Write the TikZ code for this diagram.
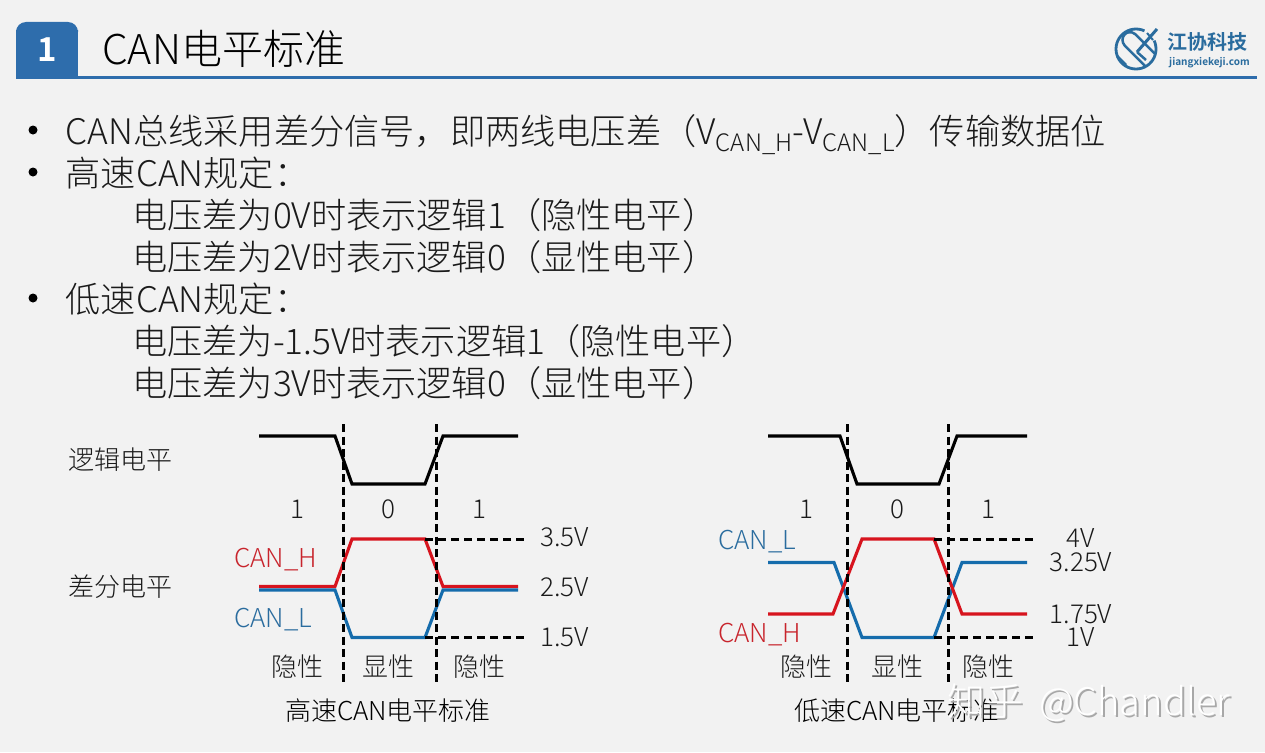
\documentclass[tikz,border=0pt]{standalone}
\usepackage{fontspec}
\setmainfont{Noto Sans CJK SC}[UprightFont=* Light,BoldFont=* Bold]
\newcommand{\fs}[1]{\fontsize{#1}{#1}\selectfont}
\definecolor{bgc}{HTML}{F2F2F2}
\definecolor{hdr}{HTML}{2E6DAC}
\definecolor{rl}{HTML}{D7141E}
\definecolor{bl}{HTML}{156CAC}
\definecolor{rt}{HTML}{C8242C}
\definecolor{bt}{HTML}{2A6C9E}
\definecolor{tx}{HTML}{1A1A1A}
\definecolor{wm}{HTML}{A8A8A8}
\tikzset{
  x=1pt,y=-1pt,
  body/.style={anchor=base west,inner sep=0pt,font=\fs{35.2},text=tx},
  dot/.style={circle,fill=black,inner sep=0pt,minimum size=9pt},
  lab/.style={inner sep=0pt,font=\fs{26},text=tx},
  sig/.style={line width=3.1pt,line join=miter},
  dash v/.style={line width=3pt,dash pattern=on 8pt off 4.5pt},
  dash h/.style={line width=3pt,dash pattern=on 8pt off 5pt},
}
\begin{document}
\begin{tikzpicture}
\useasboundingbox (0,0) rectangle (1265,752);
\fill[bgc] (0,0) rectangle (1265,752);
% header
\fill[hdr,rounded corners=10pt] (16,40) -- (16,22) -- (78,22) -- (78,40) -- cycle;
\fill[hdr] (16,32) rectangle (78,78.5);
\fill[hdr] (16,76) rectangle (1257,78.5);
\node[inner sep=0pt,anchor=base,text=white,font=\fs{33}\bfseries] (num) at (47,61) {1};
\node[anchor=base west,inner sep=0pt,font=\fs{41},text=black] (title) at (102,64) {CAN电平标准};
% logo
\draw[bt,line width=2.8pt] plot[smooth,domain=-25:295,samples=40] ({1136+20*cos(\x)},{49+20*sin(\x)});
\draw[bt,line width=2.5pt] (1155,54) -- (1135,34) .. controls (1127,28) and (1118,38) .. (1125,46) -- (1145,66);
\draw[bt,line width=3pt] (1157,29) -- (1137,52);
\draw[bt,line width=2pt] (1147,33) -- (1153,40);
\draw[bt,line width=2.5pt] (1137,52) -- (1146,60);
\draw[bt,line width=2.5pt] (1117,56) -- (1126,65);
\node[inner sep=0pt,anchor=base west,text=bt,font=\fs{20}\bfseries] (lg1) at (1167,50) {江协科技};
\node[inner sep=0pt,anchor=base west,text=bt,font=\fs{10}\bfseries] (lg2) at (1169,65) {jiangxiekeji.com};
% body
\node[dot] (b1) at (33,130) {};
\node[dot] (b2) at (33,172) {};
\node[dot] (b3) at (33,298) {};
\node[body] (l1) at (65.5,144) {CAN总线采用差分信号，即两线电压差（V\raisebox{-7pt}{\fs{24}CAN\_H}-V\raisebox{-7pt}{\fs{24}CAN\_L}）传输数据位};
\node[body] (l2) at (65.5,186) {高速CAN规定：};
\node[body] (l3) at (132,228) {电压差为0V时表示逻辑1（隐性电平）};
\node[body] (l4) at (132,270) {电压差为2V时表示逻辑0（显性电平）};
\node[body] (l5) at (65.5,312) {低速CAN规定：};
\node[body] (l6) at (132,354) {电压差为-1.5V时表示逻辑1（隐性电平）};
\node[body] (l7) at (132,396) {电压差为3V时表示逻辑0（显性电平）};
% left labels
\node[lab] (lj) at (120,460) {逻辑电平};
\node[lab] (cf) at (120,587) {差分电平};
% left diagram
\draw[sig,black] (259,436) -- (335,436) -- (352,484) -- (425,484) -- (443,436) -- (518,436);
\draw[sig,rl] (259,586.5) -- (335,586.5) -- (352,539) -- (425,539) -- (443,586.5) -- (518,586.5);
\draw[sig,bl] (259,590) -- (335,590) -- (352,637.5) -- (425,637.5) -- (443,590) -- (518,590);
\draw[dash v] (343.5,424) -- (343.5,684);
\draw[dash v] (436,424) -- (436,684);
\draw[dash h] (425,539) -- (526,539);
\draw[dash h] (425,637.5) -- (526,637.5);
\node[lab] (a1) at (297,509) {1};
\node[lab] (a2) at (388,509) {0};
\node[lab] (a3) at (479,509) {1};
\node[lab,text=rt,anchor=west] (ah) at (234,560) {CAN\_H};
\node[lab,text=bt,anchor=west] (al) at (234,620) {CAN\_L};
\node[lab,anchor=west] (v1) at (540,537) {3.5V};
\node[lab,anchor=west] (v2) at (540,587) {2.5V};
\node[lab,anchor=west] (v3) at (540,637) {1.5V};
\node[lab] (a4) at (297,667) {隐性};
\node[lab] (a5) at (388,667) {显性};
\node[lab] (a6) at (479,667) {隐性};
\node[lab,text=black] (cap1) at (388,711) {高速CAN电平标准};
% right diagram
\draw[sig,black] (768,436) -- (840,436) -- (857,484) -- (939,484) -- (957,436) -- (1027,436);
\draw[sig,bl] (768,562.5) -- (834,562.5) -- (862,637.5) -- (934,637.5) -- (962,562.5) -- (1027,562.5);
\draw[sig,rl] (768,614) -- (833,614) -- (862,539) -- (934,539) -- (962,614) -- (1027,614);
\draw[dash v] (847.5,424) -- (847.5,684);
\draw[dash v] (948.5,424) -- (948.5,684);
\draw[dash h] (934,539) -- (1035,539);
\draw[dash h] (934,637.5) -- (1035,637.5);
\node[lab] (b4) at (806,509) {1};
\node[lab] (b5) at (897,509) {0};
\node[lab] (b6) at (988,509) {1};
\node[lab,text=bt,anchor=west] (bl1) at (718,542) {CAN\_L};
\node[lab,text=rt,anchor=west] (bh1) at (718,635) {CAN\_H};
\node[lab] (w1) at (1081,538) {4V};
\node[lab] (w2) at (1081,562) {3.25V};
\node[lab] (w3) at (1081,614) {1.75V};
\node[lab] (w4) at (1081,637) {1V};
\node[lab] (b7) at (806,667) {隐性};
\node[lab] (b8) at (897,667) {显性};
\node[lab] (b9) at (988,667) {隐性};
\node[lab,text=black] (cap2) at (897,711) {低速CAN电平标准};
% watermark
\node[inner sep=0pt,anchor=base west,text=wm,font=\fs{38}] (wm1) at (949,717) {知乎\hspace{16pt}@Chandler};
\node[inner sep=0pt,anchor=base west,text=white,font=\fs{38}] (wm2) at (947,715) {知乎\hspace{16pt}@Chandler};
\end{tikzpicture}
\end{document}
